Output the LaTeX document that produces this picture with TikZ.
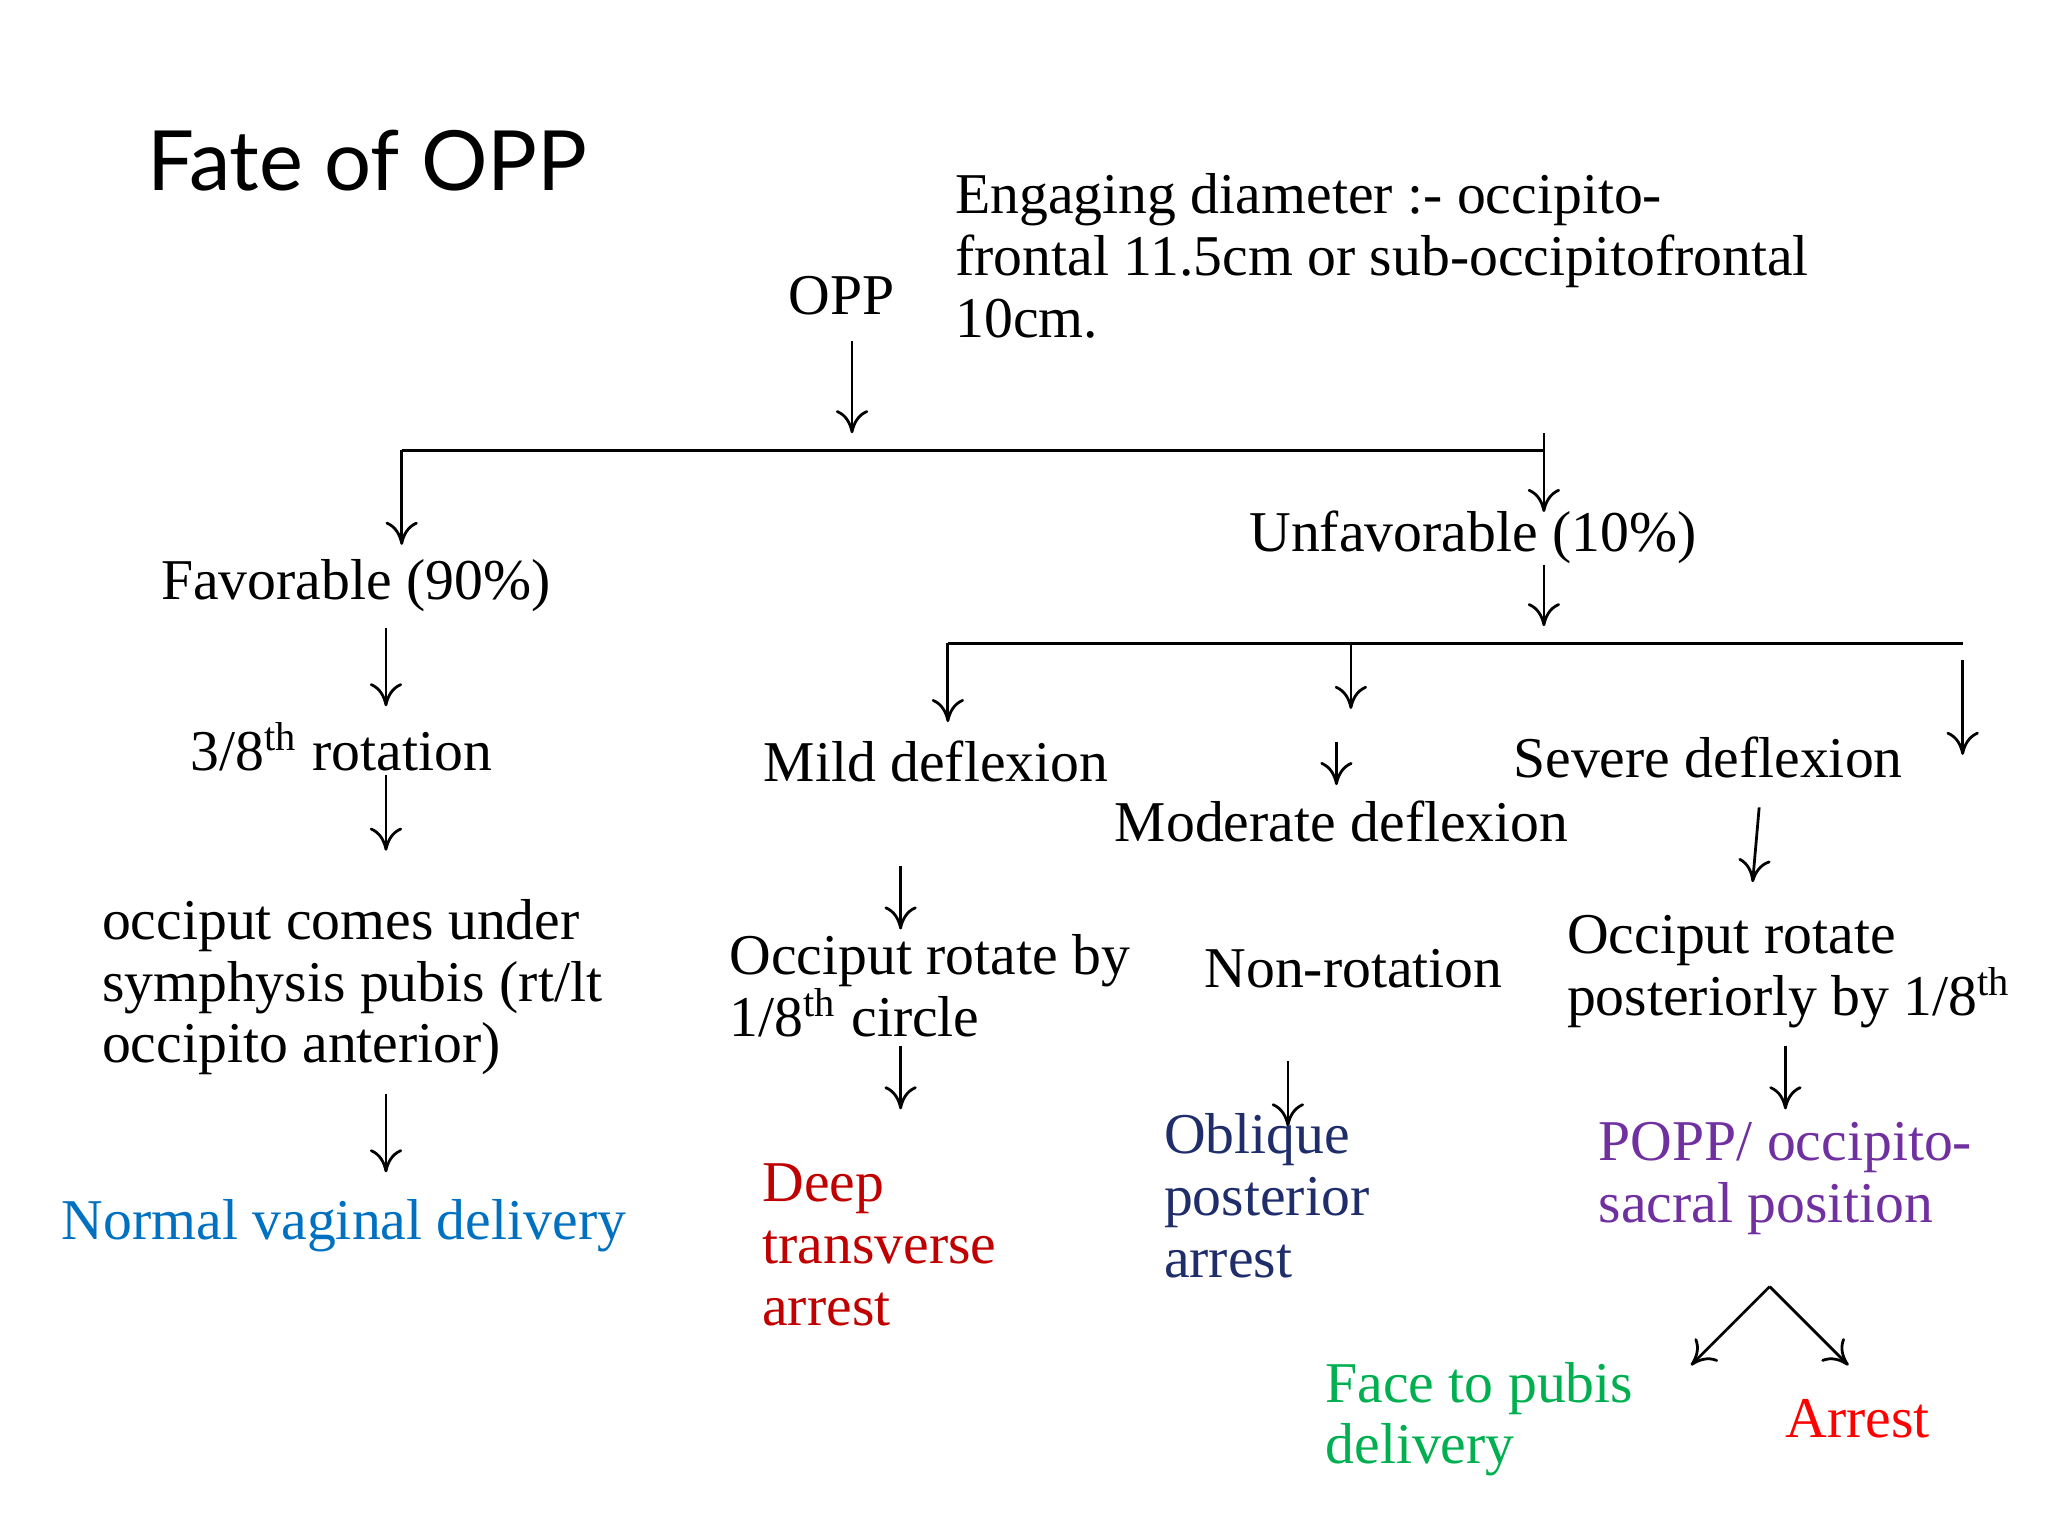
\documentclass[tikz,border=0pt]{standalone}
\usepackage{fontspec}
\setmainfont{Liberation Serif}
\newfontfamily\titlefont{Lato}
\usetikzlibrary{arrows.meta}
\definecolor{nvdblue}{HTML}{0070C0}
\definecolor{dtared}{HTML}{C00000}
\definecolor{navy}{HTML}{1F2D6B}
\definecolor{poppc}{HTML}{7030A0}
\definecolor{facegreen}{HTML}{00B050}
\definecolor{arred}{HTML}{FF0000}
\begin{document}
\begin{tikzpicture}[x=0.01cm,y=-0.01cm,
  txt/.style={inner sep=0pt,align=left,font=\fontsize{12.5pt}{13.4pt}\selectfont},
  arr/.style={-{To[length=5pt,width=7pt]},line width=0.6pt},
  ln/.style={line width=0.6pt}]
\useasboundingbox (0,0) rectangle (1560,1170);
\node[inner sep=0pt,font=\titlefont\fontsize{18pt}{20pt}\selectfont] (title) at (280,122) {Fate of OPP};
\node[txt,anchor=west] (eng) at (727,195) {Engaging diameter :- occipito-\\frontal 11.5cm or sub-occipitofrontal\\10cm.};
\node[txt] (opp) at (641,225) {OPP};
\coordinate (o1) at (649,260); \coordinate (o2) at (649,330);
\draw[arr] (o1) -- (o2);
\coordinate (hl) at (306,343); \coordinate (hr) at (1176,343);
\draw[ln] (hl) -- (hr);
\coordinate (fa) at (306,415); \draw[arr] (hl) -- (fa);
\coordinate (ua0) at (1176,330); \coordinate (ua1) at (1176,390); \draw[arr] (ua0) -- (ua1);
\node[txt] (fav) at (271,446) {Favorable (90\%)};
\node[txt] (unfav) at (1122,409) {Unfavorable (10\%)};
\coordinate (u1) at (1176,430); \coordinate (u2) at (1176,477); \draw[arr] (u1) -- (u2);
\coordinate (bl) at (722,490); \coordinate (br) at (1495,490); \draw[ln] (bl) -- (br);
\coordinate (bm) at (1029,490);
\coordinate (b1) at (722,550); \draw[arr] (bl) -- (b1);
\coordinate (b2) at (1029,540); \draw[arr] (bm) -- (b2);
\coordinate (b3a) at (1495,503); \coordinate (b3) at (1495,575); \draw[arr] (b3a) -- (b3);
\coordinate (f1) at (294,478); \coordinate (f2) at (294,538); \draw[arr] (f1) -- (f2);
\node[txt] (rot) at (260,569) {3/8\textsuperscript{th} rotation};
\coordinate (r1) at (294,590); \coordinate (r2) at (294,648); \draw[arr] (r1) -- (r2);
\node[txt,anchor=west] (occ) at (77,752) {occiput comes under\\symphysis pubis (rt/lt\\occipito anterior)};
\coordinate (c1) at (294,833); \coordinate (c2) at (294,893); \draw[arr] (c1) -- (c2);
\node[txt,text=nvdblue] (nvd) at (262,934) {Normal vaginal delivery};
\node[txt] (mild) at (713,580) {Mild deflexion};
\coordinate (m1) at (1018,565); \coordinate (m2) at (1018,598); \draw[arr] (m1) -- (m2);
\node[txt] (mod) at (1022,626) {Moderate deflexion};
\node[txt] (sev) at (1301,577) {Severe deflexion};
\coordinate (s1) at (1340,615); \coordinate (s2) at (1335,672); \draw[arr] (s1) -- (s2);
\coordinate (d1) at (686,660); \coordinate (d2) at (686,708); \draw[arr] (d1) -- (d2);
\node[txt,anchor=west] (orot) at (555,751) {Occiput rotate by\\1/8\textsuperscript{th} circle};
\coordinate (d3) at (686,797); \coordinate (d4) at (686,845); \draw[arr] (d3) -- (d4);
\node[txt,anchor=west,text=dtared] (dta) at (580,948) {Deep\\transverse\\arrest};
\node[txt] (nonrot) at (1031,738) {Non-rotation};
\coordinate (n1) at (981,808); \coordinate (n2) at (981,858); \draw[arr] (n1) -- (n2);
\node[txt,anchor=west,text=navy] (obl) at (886,911) {Oblique\\posterior\\arrest};
\node[txt,anchor=west] (opost) at (1193,740) {Occiput rotate\\posteriorly by 1/8\textsuperscript{th}};
\coordinate (p1) at (1360,797); \coordinate (p2) at (1360,845); \draw[arr] (p1) -- (p2);
\node[txt,anchor=west,text=poppc] (popp) at (1217,898) {POPP/ occipito-\\sacral position};
\coordinate (apex) at (1348,980); \coordinate (al) at (1288,1040); \coordinate (ar) at (1408,1040);
\draw[arr] (apex) -- (al); \draw[arr] (apex) -- (ar);
\node[txt,anchor=west,text=facegreen] (face) at (1009,1081) {Face to pubis\\delivery};
\node[txt,text=arred] (arrest) at (1415,1081) {Arrest};
\end{tikzpicture}
\end{document}
